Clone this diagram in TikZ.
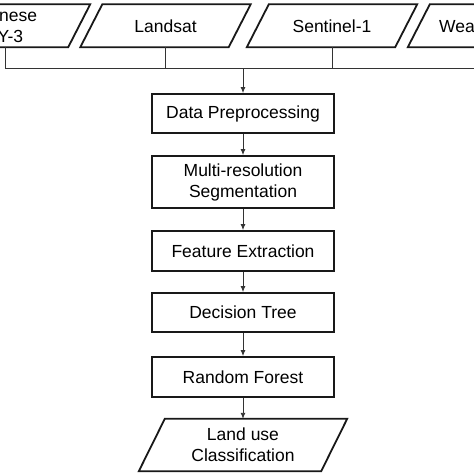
\documentclass[tikz,border=0pt]{standalone}
\usepackage{fontspec}
\setmainfont{Liberation Sans}
\usetikzlibrary{arrows.meta}
\begin{document}
\begin{tikzpicture}[x=1pt,y=-1pt,
  txt/.style={inner sep=0pt, align=center, font=\fontsize{17.5}{21}\selectfont},
  box/.style={txt, draw=black!90, line width=1.8pt, minimum width=182pt},
  src/.style={txt, minimum width=148pt, minimum height=42.5pt},
  resnode/.style={txt, minimum width=182pt, minimum height=52pt},
  para/.style={draw=black!90, line width=1.8pt, line join=miter},
  conn/.style={draw=black!80, line width=0.9pt},
  arr/.style={conn, -{Latex[length=6pt,width=5pt]}}]
\useasboundingbox (0,0) rectangle (474,474);
\clip (0,0) rectangle (474,474);
\fill[white] (0,0) rectangle (474,474);
% source nodes (parallelograms)
\node[src] (fy) at (5,25.75) {Chinese\\FY-3};
\node[src] (ls) at (165.5,25.75) {Landsat};
\node[src] (s1) at (332,25.75) {Sentinel-1};
\node[src] (we) at (493,25.75) {Weather Data};
\foreach \n in {fy,ls,s1,we}{
  \draw[para] ([xshift=11pt]\n.north west) -- ([xshift=11pt]\n.north east)
    -- ([xshift=-11pt]\n.south east) -- ([xshift=-11pt]\n.south west) -- cycle;
}
% process boxes
\node[box, minimum height=39pt] (dp) at (243,113.5) {Data Preprocessing};
\node[box, minimum height=52pt] (mr) at (243,182) {Multi-resolution\\Segmentation};
\node[box, minimum height=40pt] (fe) at (243,251) {Feature Extraction};
\node[box, minimum height=39pt] (dt) at (243,312.5) {Decision Tree};
\node[box, minimum height=40pt] (rf) at (243,377) {Random Forest};
\node[resnode] (lu) at (243,445) {Land use\\Classification};
\draw[para] ([xshift=13pt]lu.north west) -- ([xshift=13pt]lu.north east)
  -- ([xshift=-13pt]lu.south east) -- ([xshift=-13pt]lu.south west) -- cycle;
% collector line
\coordinate (j1) at (fy.south |- 0,68);
\coordinate (j4) at (we.south |- 0,68);
\coordinate (jm) at (dp.north |- 0,68);
\draw[conn] (fy.south) -- (j1) -- (j4) -- (we.south);
\draw[conn] (ls.south) -- (ls.south |- j1);
\draw[conn] (s1.south) -- (s1.south |- j1);
\draw[arr] (jm) -- (dp.north);
\draw[arr] (dp) -- (mr);
\draw[arr] (mr) -- (fe);
\draw[arr] (fe) -- (dt);
\draw[arr] (dt) -- (rf);
\draw[arr] (rf) -- (lu);
\end{tikzpicture}
\end{document}
